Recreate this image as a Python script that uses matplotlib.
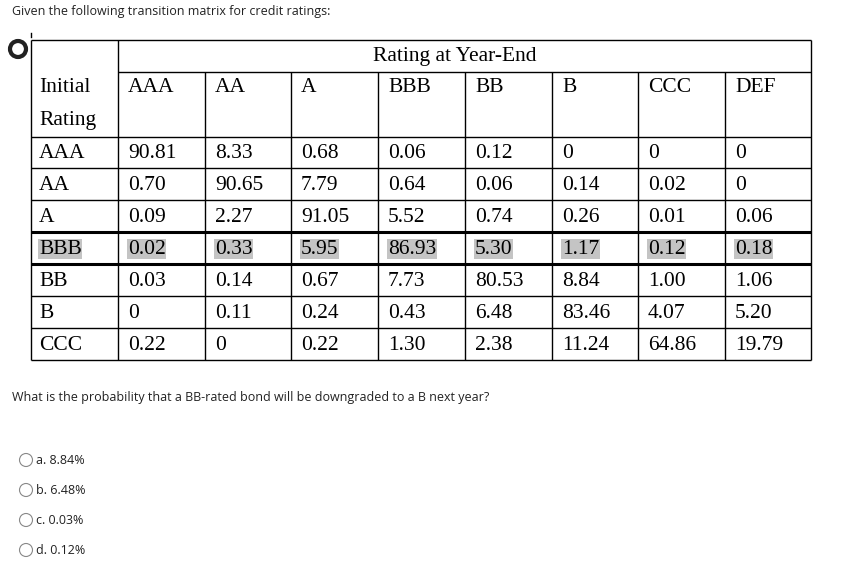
import matplotlib
matplotlib.use("Agg")
import matplotlib.pyplot as plt
from matplotlib.patches import Circle

title = "Given the following transition matrix for credit ratings:"
col_labels = ["AAA", "AA", "A", "BBB", "BB", "B", "CCC", "DEF"]
row_labels = ["AAA", "AA", "A", "BBB", "BB", "B", "CCC"]
values = [
    ["90.81", "8.33", "0.68", "0.06", "0.12", "0", "0", "0"],
    ["0.70", "90.65", "7.79", "0.64", "0.06", "0.14", "0.02", "0"],
    ["0.09", "2.27", "91.05", "5.52", "0.74", "0.26", "0.01", "0.06"],
    ["0.02", "0.33", "5.95", "86.93", "5.30", "1.17", "0.12", "0.18"],
    ["0.03", "0.14", "0.67", "7.73", "80.53", "8.84", "1.00", "1.06"],
    ["0", "0.11", "0.24", "0.43", "6.48", "83.46", "4.07", "5.20"],
    ["0.22", "0", "0.22", "1.30", "2.38", "11.24", "64.86", "19.79"],
]
highlight_row = "BBB"
question = "What is the probability that a BB-rated bond will be downgraded to a B next year?"
options = ["a. 8.84%", "b. 6.48%", "c. 0.03%", "d. 0.12%"]

fig = plt.figure(figsize=(8.49, 5.80), dpi=100)
ax = fig.add_axes([0, 0, 1, 1])
ax.set_xlim(0, 849)
ax.set_ylim(580, 0)
ax.axis("off")

serif = "Liberation Serif"
sans = "Open Sans"
fs = 15.5

ax.text(12, 12, title, fontsize=9, family=sans, va="center", ha="left", color="#222")

xs = [31, 118, 205, 291, 378, 465, 552, 638, 725, 811]
ys = [40, 72, 137, 168, 200, 232, 264, 296, 328, 360]
lw = 1.0
# horizontal lines
for i, y in enumerate(ys):
    x0 = xs[1] if i == 1 else xs[0]
    w = 2.2 if y in (232, 264) else lw
    ax.plot([x0, xs[-1]], [y, y], color="black", lw=w, solid_capstyle="butt")
# vertical lines
for j, x in enumerate(xs):
    y0 = ys[0] if j in (0, 1, len(xs) - 1) else ys[1]
    ax.plot([x, x], [y0, ys[-1]], color="black", lw=lw, solid_capstyle="butt")

ax.text((xs[1] + xs[-1]) / 2 - 10, 57, "Rating at Year-End", fontsize=fs, family=serif,
        ha="center", va="center")
ax.text(xs[0] + 8, 88, "Initial", fontsize=fs, family=serif, ha="left", va="center")
ax.text(xs[0] + 8, 120, "Rating", fontsize=fs, family=serif, ha="left", va="center")
for j, c in enumerate(col_labels):
    ax.text(xs[j + 1] + 10, 88, c, fontsize=fs, family=serif, ha="left", va="center")

for i, r in enumerate(row_labels):
    yc = (ys[i + 2] + ys[i + 3]) / 2 + 1
    hl = dict(facecolor="#c4c4c4", edgecolor="none", pad=0.5) if r == highlight_row else None
    ax.text(xs[0] + 8, yc, r, fontsize=fs, family=serif, ha="left", va="center", bbox=hl)
    for j, v in enumerate(values[i]):
        ax.text(xs[j + 1] + 10, yc, v, fontsize=fs, family=serif, ha="left", va="center", bbox=hl)

# decorative marks
ax.add_patch(Circle((18, 49), 8, fill=False, lw=3, color="#222"))
ax.plot([31, 31], [33, 37], color="black", lw=1)

ax.text(12, 398, question, fontsize=9, family=sans, ha="left", va="center", color="#222")
for k, o in enumerate(options):
    y = 460 + k * 30
    ax.add_patch(Circle((26, y), 6.5, fill=False, lw=0.8, color="#888"))
    ax.text(36, y, o, fontsize=9, family=sans, ha="left", va="center", color="#222")

fig.savefig("out.png", dpi=100, facecolor="white")
